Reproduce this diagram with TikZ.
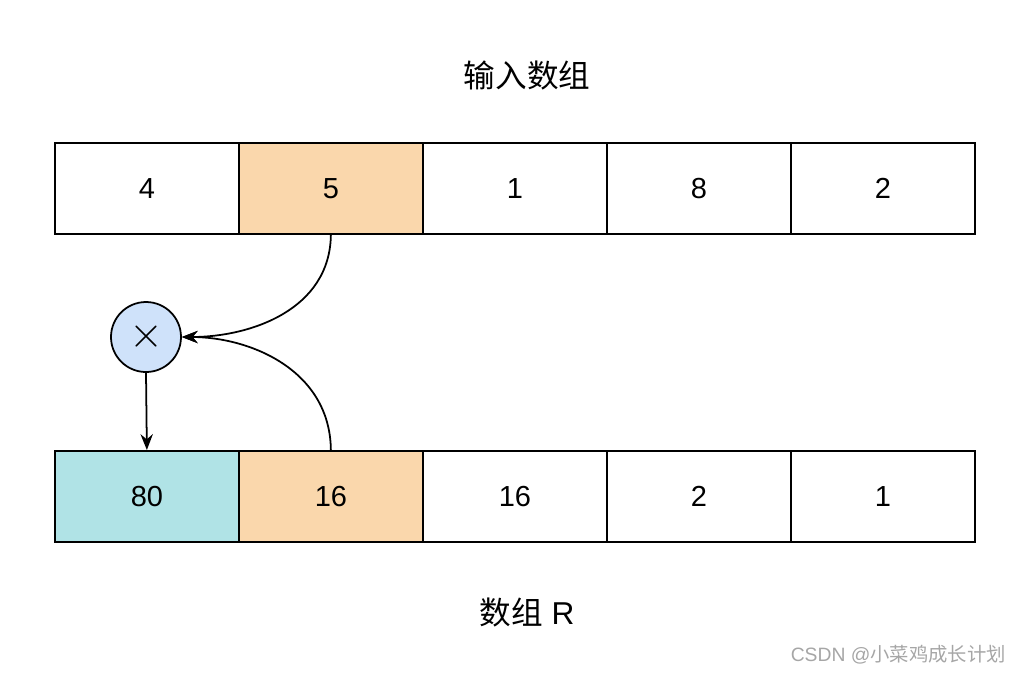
\documentclass[tikz,border=0pt]{standalone}
\usepackage{fontspec}
\setmainfont{Liberation Sans}
\newfontfamily\cjk{Noto Sans CJK SC}
\usetikzlibrary{arrows.meta}
\definecolor{orng}{HTML}{FAD7AC}
\definecolor{teal2}{HTML}{B0E3E6}
\definecolor{blu}{HTML}{CFE2FA}
\begin{document}
\begin{tikzpicture}[x=0.02cm,y=-0.02cm,
  cell/.style={draw=black,line width=1pt,minimum width=184*0.02cm,minimum height=91*0.02cm,inner sep=0,font=\fontsize{16.5}{16}\selectfont,anchor=north west},
  arr/.style={-{Stealth[length=9pt,width=7pt]},line width=1pt}]
\useasboundingbox (0,0) rectangle (1023,674);
\node[font=\cjk\fontsize{18}{18}\selectfont] (t1) at (527,75) {输入数组};
\node[font=\fontsize{18}{18}\selectfont] (t2) at (527,612) {{\cjk 数组} R};
\node[cell] (a0) at (54,142) {4};
\node[cell,fill=orng] (a1) at (238,142) {5};
\node[cell] (a2) at (422,142) {1};
\node[cell] (a3) at (606,142) {8};
\node[cell] (a4) at (790,142) {2};
\node[cell,fill=teal2] (b0) at (54,450) {80};
\node[cell,fill=orng] (b1) at (238,450) {16};
\node[cell] (b2) at (422,450) {16};
\node[cell] (b3) at (606,450) {2};
\node[cell] (b4) at (790,450) {1};
\node[circle,draw=black,fill=blu,line width=1pt,minimum size=70*0.02cm,inner sep=0,font=\fontsize{24}{24}\selectfont] (m) at (146,337) {$\times$};
\draw[arr] (a1.south) .. controls (330,310) and (250,337) .. (m.east);
\draw[arr] (b1.north) .. controls (330,370) and (250,337) .. (m.east);
\draw[arr] (m.south) -- (b0.north);
\node[text=gray!70,font=\fontsize{11}{11}\selectfont,anchor=east] (w) at (1012,655) {CSDN @{\cjk 小菜鸡成长计划}};
\end{tikzpicture}
\end{document}
